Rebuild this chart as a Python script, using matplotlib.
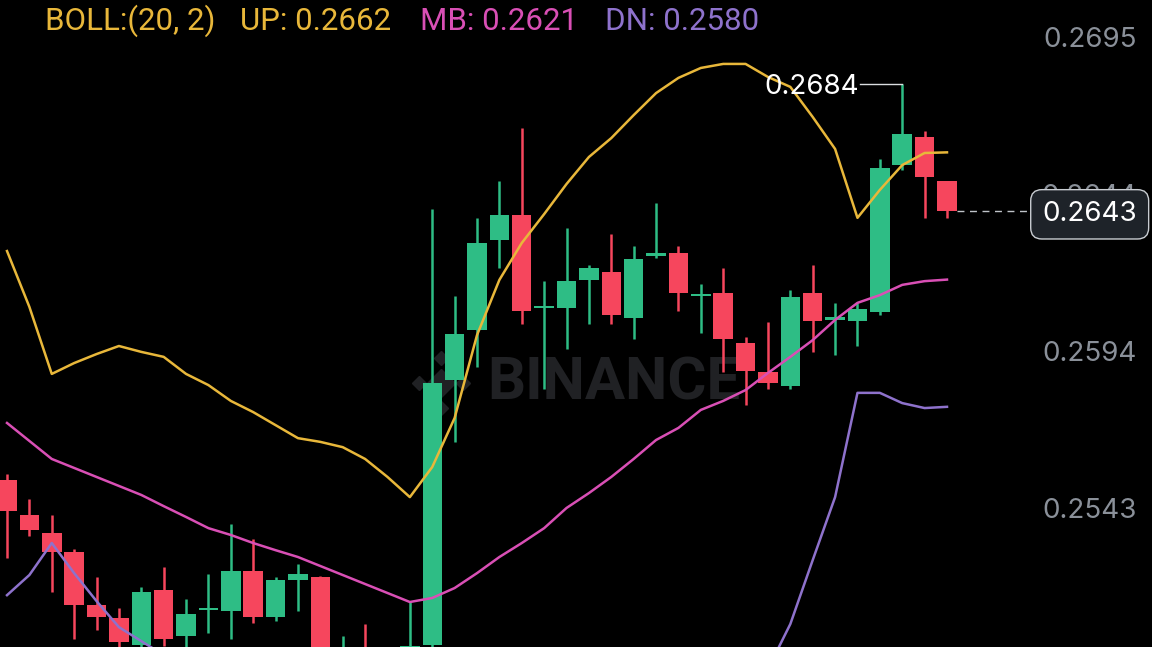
"""
BOLL(20, 2) 蜡烛图 —— 仿 Binance 暗色界面
"""

import numpy as np
import matplotlib.pyplot as plt
from matplotlib import transforms

# K 线数据 (open / high / low / close)
opens = [0.25564, 0.25451, 0.25393, 0.25332, 0.25161, 0.25119, 0.25032, 0.25210, 0.25061, 0.25145,
         0.25142, 0.25271, 0.25123, 0.25242, 0.25251, 0.24839, 0.24984, 0.24887, 0.25010, 0.25032,
         0.25886, 0.26048, 0.26338, 0.26418, 0.26118, 0.26118, 0.26209, 0.26234, 0.26086, 0.26286,
         0.26296, 0.26157, 0.26167, 0.26006, 0.25912, 0.25867, 0.26167, 0.26080, 0.26077, 0.26106,
         0.26579, 0.26670, 0.26528]
highs = [0.25583, 0.25503, 0.25451, 0.25342, 0.25251, 0.25152, 0.25219, 0.25284, 0.25181, 0.25261,
         0.25422, 0.25374, 0.25251, 0.25293, 0.25256, 0.25061, 0.25100, 0.25000, 0.25171, 0.26438,
         0.26157, 0.26409, 0.26528, 0.26699, 0.26205, 0.26376, 0.26257, 0.26357, 0.26318, 0.26457,
         0.26318, 0.26196, 0.26247, 0.26025, 0.26073, 0.26176, 0.26257, 0.26135, 0.26135, 0.26599,
         0.26840, 0.26689, 0.26528]
lows = [0.25313, 0.25384, 0.25203, 0.25052, 0.25081, 0.25000, 0.24968, 0.25029, 0.24984, 0.25071,
        0.25052, 0.25103, 0.25110, 0.25142, 0.24791, 0.24791, 0.24758, 0.24694, 0.24984, 0.25016,
        0.25687, 0.25928, 0.26247, 0.26067, 0.25857, 0.25986, 0.26067, 0.26067, 0.26019, 0.26280,
        0.26109, 0.26038, 0.25912, 0.25806, 0.25857, 0.25857, 0.25977, 0.25967, 0.25996, 0.26096,
        0.26563, 0.26409, 0.26409]
closes = [0.25464, 0.25403, 0.25332, 0.25161, 0.25123, 0.25042, 0.25203, 0.25052, 0.25132, 0.25152,
          0.25271, 0.25123, 0.25242, 0.25261, 0.24855, 0.24952, 0.24855, 0.24758, 0.25029, 0.25877,
          0.26035, 0.26328, 0.26418, 0.26109, 0.26125, 0.26205, 0.26247, 0.26096, 0.26276, 0.26296,
          0.26167, 0.26164, 0.26019, 0.25915, 0.25877, 0.26154, 0.26077, 0.26086, 0.26115, 0.26570,
          0.26679, 0.26541, 0.26430]

# 布林带
boll_up = [0.26302, 0.26122, 0.25906, 0.25941, 0.25970, 0.25996, 0.25977, 0.25961, 0.25906, 0.25870,
           0.25819, 0.25783, 0.25741, 0.25699, 0.25687, 0.25670, 0.25632, 0.25574, 0.25509, 0.25606,
           0.25764, 0.26031, 0.26209, 0.26328, 0.26421, 0.26518, 0.26605, 0.26666, 0.26740, 0.26811,
           0.26860, 0.26892, 0.26905, 0.26905, 0.26863, 0.26831, 0.26734, 0.26631, 0.26409, 0.26499,
           0.26579, 0.26618, 0.26620]
boll_mb = [0.25748, 0.25690, 0.25632, 0.25603, 0.25574, 0.25545, 0.25516, 0.25480, 0.25445, 0.25409,
           0.25387, 0.25361, 0.25338, 0.25316, 0.25287, 0.25258, 0.25229, 0.25200, 0.25171, 0.25184,
           0.25216, 0.25264, 0.25316, 0.25361, 0.25409, 0.25474, 0.25522, 0.25574, 0.25632, 0.25693,
           0.25732, 0.25790, 0.25819, 0.25854, 0.25909, 0.25961, 0.26015, 0.26080, 0.26135, 0.26160,
           0.26193, 0.26205, 0.26210]
boll_dn = [0.25193, 0.25258, 0.25361, 0.25264, 0.25174, 0.25090, 0.25045, 0.25000, 0.24984, 0.24949,
           0.24955, 0.24939, 0.24936, 0.24932, 0.24887, 0.24845, 0.24826, 0.24826, 0.24832, 0.24762,
           0.24668, 0.24497, 0.24423, 0.24394, 0.24397, 0.24430, 0.24439, 0.24481, 0.24523, 0.24575,
           0.24604, 0.24687, 0.24733, 0.24803, 0.24955, 0.25100, 0.25306, 0.25509, 0.25845, 0.25845,
           0.25812, 0.25796, 0.25800]

tick_values = [0.26948, 0.26441, 0.25935, 0.25428]
tick_labels = ["0.2695", "0.2644", "0.2594", "0.2543"]
last_price = 0.2643
boll_text = ["BOLL:(20, 2)", "UP: 0.2662", "MB: 0.2621", "DN: 0.2580"]

GREEN = "#2EBD85"
RED = "#F6465D"
YELLOW = "#E8B73A"
PINK = "#D94FB5"
PURPLE = "#8E72CC"
GREY = "#8A9099"


def draw():
    fig = plt.figure(figsize=(11.52, 6.47), dpi=100, facecolor="black")
    ax = fig.add_axes([0, 0, 1, 1])
    ax.set_facecolor("black")

    o = np.array(opens)
    c = np.array(closes)
    x = np.arange(len(o))
    col = np.where(c >= o, GREEN, RED)

    # 水印
    ax.text(0.423, 0.408, "BINANCE", transform=ax.transAxes, ha="left", va="center",
            fontsize=43, fontweight="bold", family="Roboto", color="#202124", zorder=0)
    for dx, dy, s in [(0.383, 0.408, 14), (0.364, 0.408, 7), (0.402, 0.408, 7),
                      (0.383, 0.446, 7), (0.383, 0.370, 7)]:
        ax.plot(dx, dy, marker="D", ms=s, color="#202124", transform=ax.transAxes, zorder=0)

    # 蜡烛
    ax.vlines(x, lows, highs, colors=col, lw=1.8, zorder=2)
    body = np.maximum(np.abs(c - o), 0.00008)
    ax.bar(x, body, bottom=np.minimum(o, c), width=0.87, color=col, zorder=3)

    # 布林带
    ax.plot(x, boll_up, color=YELLOW, lw=1.8, zorder=4)
    ax.plot(x, boll_mb, color=PINK, lw=1.8, zorder=4)
    ax.plot(x, boll_dn, color=PURPLE, lw=1.8, zorder=4)

    ax.set_xlim(-0.313, 51.16)
    ax.set_ylim(0.25026, 0.27111)
    ax.axis("off")

    # 最高价标注
    imax = int(np.argmax(highs))
    hmax = highs[imax]
    ax.plot([imax - 1.88, imax], [hmax, hmax], color="#DADDE0", lw=1, zorder=5)
    ax.text(imax - 1.95, hmax, "%.4f" % hmax, ha="right", va="center_baseline", fontsize=20,
            family="Inter", color="white", zorder=6)

    # 右侧刻度
    ytr = transforms.offset_copy(ax.get_yaxis_transform(), fig=fig, x=0, y=4, units="dots")
    for v, lab in zip(tick_values, tick_labels):
        ax.text(1137 / 1152, v, lab, transform=ytr, ha="right", va="baseline",
                fontsize=20, family="Inter", color=GREY, zorder=5)

    # 最新价
    ax.plot([len(o) - 1 + 0.45, 45.6], [last_price, last_price], color="#BFC3C8",
            lw=1, ls=(0, (5, 4)), zorder=5)
    ax.text(1137 / 1152, last_price, "%.4f" % last_price, transform=ax.get_yaxis_transform(),
            ha="right", va="center_baseline", fontsize=20, family="Inter", color="white", zorder=8,
            bbox=dict(boxstyle="round,pad=0.42,rounding_size=0.4", fc="#1E2329", ec="#C9CDD2", lw=1))

    # 顶部 BOLL 参数
    xs = [45, 240, 420, 605]
    cs = [YELLOW, YELLOW, PINK, PURPLE]
    for xp, t, cc in zip(xs, boll_text, cs):
        fig.text(xp / 1152, 1 - 30 / 647, t, ha="left", va="baseline", fontsize=22.5,
                 family="Roboto", color=cc)

    fig.savefig("out.png", dpi=100, facecolor="black")


if __name__ == "__main__":
    draw()
